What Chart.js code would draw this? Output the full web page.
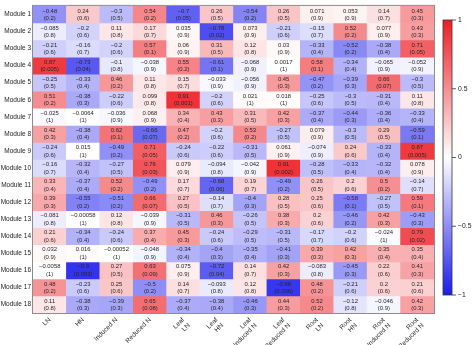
<!DOCTYPE html>
<html>
<head>
<meta charset="utf-8">
<script src="https://cdn.jsdelivr.net/npm/chart.js@4.4.1/dist/chart.umd.min.js"></script>
<style>
  html, body { margin: 0; padding: 0; background: #fff; }
  #wrap { width: 474px; height: 345px; }
</style>
</head>
<body>
<div id="wrap"><canvas id="heat" width="474" height="345"></canvas></div>
<script>
const columns = [
  "LN", "HN", "Induced N", "Reduced N",
  ["Leaf", "LN"], ["Leaf", "HN"], ["Leaf", "Induced N"], ["Leaf", "Reduced N"],
  ["Root", "LN"], ["Root", "HN"], ["Root", "Induced N"], ["Root", "Reduced N"]
];
const modules = [];
for (let i = 1; i <= 18; i++) modules.push("Module " + i);

// correlation per module (rows) x trait (columns)
const rVals = [
  [-0.48, 0.24, -0.3, 0.54, -0.7, 0.26, -0.54, 0.26, 0.071, 0.053, 0.14, 0.45],
  [-0.085, -0.2, 0.11, 0.17, 0.035, -0.78, 0.073, -0.21, -0.15, 0.52, 0.077, 0.43],
  [-0.21, -0.16, -0.2, 0.57, 0.06, 0.31, 0.12, 0.03, -0.33, -0.52, -0.38, 0.71],
  [0.87, -0.73, -0.1, -0.038, 0.55, -0.61, -0.068, 0.0017, 0.58, -0.34, -0.065, -0.052],
  [-0.25, -0.33, 0.46, 0.11, 0.15, -0.033, -0.056, 0.45, -0.47, -0.39, 0.66, -0.3],
  [0.51, -0.38, -0.22, 0.099, 0.91, -0.2, 0.021, 0.018, -0.25, -0.3, -0.31, 0.11],
  [-0.025, -0.0064, -0.036, 0.068, 0.34, 0.43, 0.31, 0.42, -0.37, -0.44, -0.36, -0.33],
  [0.42, -0.38, 0.62, -0.66, 0.47, -0.2, 0.53, -0.27, 0.079, -0.3, 0.29, -0.59],
  [-0.24, 0.015, -0.49, 0.71, -0.24, -0.22, -0.31, 0.061, -0.074, 0.24, -0.33, 0.87],
  [-0.16, -0.32, -0.27, 0.76, 0.079, -0.094, -0.042, 0.91, -0.28, -0.33, -0.32, 0.078],
  [0.33, -0.37, 0.52, -0.49, 0.17, -0.68, 0.19, -0.49, 0.26, 0.2, 0.5, -0.14],
  [0.39, -0.55, -0.51, 0.66, 0.27, -0.14, -0.4, 0.28, 0.25, -0.58, -0.27, 0.59],
  [-0.081, -0.00058, 0.12, -0.039, -0.31, 0.46, -0.26, 0.38, 0.2, -0.46, 0.42, -0.43],
  [0.21, -0.34, -0.24, 0.37, 0.45, -0.24, -0.29, -0.31, -0.17, -0.2, -0.024, 0.79],
  [0.032, 0.016, -0.00052, -0.048, -0.34, -0.4, -0.35, -0.41, 0.39, 0.42, 0.35, 0.35],
  [-0.0058, -0.9, 0.27, 0.63, 0.075, -0.72, 0.14, 0.42, -0.083, -0.45, 0.22, 0.41],
  [0.48, -0.23, 0.25, -0.5, 0.14, -0.093, 0.12, -0.88, 0.48, -0.21, 0.2, 0.21],
  [0.11, -0.38, -0.39, 0.65, -0.37, -0.38, -0.46, 0.44, 0.52, -0.12, -0.046, 0.42]
];

// p-values, same layout
const pVals = [
  [0.2, 0.6, 0.5, 0.2, 0.05, 0.5, 0.2, 0.5, 0.9, 0.9, 0.7, 0.3],
  [0.8, 0.6, 0.8, 0.7, 0.9, 0.02, 0.9, 0.6, 0.7, 0.2, 0.9, 0.3],
  [0.6, 0.7, 0.6, 0.1, 0.9, 0.5, 0.8, 0.9, 0.4, 0.2, 0.4, 0.05],
  [0.005, 0.04, 0.8, 0.9, 0.2, 0.1, 0.9, 1, 0.1, 0.4, 0.9, 0.9],
  [0.5, 0.4, 0.2, 0.8, 0.7, 0.9, 0.9, 0.3, 0.2, 0.3, 0.07, 0.5],
  [0.2, 0.3, 0.6, 0.8, 0.001, 0.6, 1, 1, 0.6, 0.5, 0.4, 0.8],
  [1, 1, 0.9, 0.9, 0.4, 0.3, 0.5, 0.3, 0.4, 0.3, 0.4, 0.4],
  [0.3, 0.4, 0.1, 0.07, 0.2, 0.6, 0.2, 0.5, 0.9, 0.5, 0.5, 0.1],
  [0.6, 1, 0.2, 0.05, 0.6, 0.6, 0.5, 0.9, 0.9, 0.6, 0.4, 0.005],
  [0.7, 0.4, 0.5, 0.03, 0.9, 0.8, 0.9, 0.002, 0.5, 0.4, 0.4, 0.9],
  [0.4, 0.4, 0.2, 0.2, 0.7, 0.06, 0.7, 0.2, 0.5, 0.6, 0.2, 0.7],
  [0.3, 0.2, 0.2, 0.07, 0.5, 0.7, 0.3, 0.5, 0.6, 0.1, 0.5, 0.1],
  [0.8, 1, 0.8, 0.9, 0.5, 0.3, 0.5, 0.3, 0.6, 0.2, 0.3, 0.3],
  [0.6, 0.4, 0.6, 0.4, 0.3, 0.6, 0.5, 0.5, 0.7, 0.6, 1, 0.02],
  [0.9, 1, 1, 0.9, 0.4, 0.3, 0.4, 0.3, 0.3, 0.3, 0.4, 0.4],
  [1, 0.003, 0.5, 0.09, 0.9, 0.04, 0.7, 0.3, 0.8, 0.3, 0.6, 0.3],
  [0.2, 0.6, 0.6, 0.2, 0.7, 0.8, 0.8, 0.006, 0.2, 0.6, 0.6, 0.6],
  [0.8, 0.3, 0.3, 0.08, 0.4, 0.4, 0.3, 0.3, 0.2, 0.8, 0.9, 0.3]
];

const colorTicks = [1, 0.5, 0, -0.5, -1];

const FONT = "'Liberation Sans', Arial, sans-serif";
const RED = [236, 30, 36];
const BLUE = [28, 28, 236];

function heatColor(v){
  const t = Math.min(1, Math.abs(v));
  const end = v >= 0 ? RED : BLUE;
  const c = end.map(e => Math.round(255 + (e - 255) * t));
  return "rgb(" + c.join(",") + ")";
}

function fmt(v){
  return String(v).replace("-", "\u2212");
}

const datasets = modules.map((m, i) => ({
  label: m,
  data: columns.map(() => [i + 0.5, i + 1.5]),
  backgroundColor: rVals[i].map(heatColor),
  borderWidth: 0,
  barPercentage: 1,
  categoryPercentage: 1,
  grouped: false
}));

const cellText = {
  id: "cellText",
  afterDatasetsDraw(chart){
    const ctx = chart.ctx;
    ctx.save();
    ctx.fillStyle = "#262626";
    ctx.textAlign = "center";
    ctx.textBaseline = "middle";
    ctx.font = "5.9px " + FONT;
    chart.data.datasets.forEach((ds, i) => {
      const meta = chart.getDatasetMeta(i);
      meta.data.forEach((el, j) => {
        const cy = (el.y + el.base) / 2;
        ctx.fillText(fmt(rVals[i][j]), el.x, cy - 3.5);
        ctx.fillText("(" + pVals[i][j] + ")", el.x, cy + 4);
      });
    });
    // frame around the heatmap
    const a = chart.chartArea;
    ctx.strokeStyle = "#8c8c8c";
    ctx.lineWidth = 1;
    ctx.strokeRect(a.left - 0.5, a.top - 0.5, a.right - a.left + 1, a.bottom - a.top + 1);
    ctx.restore();
  }
};

const colorBar = {
  id: "colorBar",
  afterDraw(chart){
    const ctx = chart.ctx;
    const x0 = 443, x1 = 452, top = 20, bot = 295;
    ctx.save();
    const g = ctx.createLinearGradient(0, top, 0, bot);
    g.addColorStop(0, heatColor(1));
    g.addColorStop(0.5, heatColor(0));
    g.addColorStop(1, heatColor(-1));
    ctx.fillStyle = g;
    ctx.fillRect(x0, top, x1 - x0, bot - top);
    ctx.strokeStyle = "#333";
    ctx.lineWidth = 0.8;
    ctx.strokeRect(x0, top, x1 - x0, bot - top);
    ctx.fillStyle = "#222";
    ctx.font = "6.8px " + FONT;
    ctx.textAlign = "left";
    ctx.textBaseline = "middle";
    colorTicks.forEach(t => {
      const y = top + (1 - t) / 2 * (bot - top);
      ctx.beginPath();
      ctx.moveTo(x1, y);
      ctx.lineTo(x1 + 4, y);
      ctx.stroke();
      ctx.fillText(fmt(t), x1 + 6, y);
    });
    ctx.restore();
  }
};

new Chart(document.getElementById("heat"), {
  type: "bar",
  data: { labels: columns, datasets: datasets },
  plugins: [cellText, colorBar],
  options: {
    responsive: false,
    animation: false,
    layout: { padding: { left: 0, right: 40, top: 1, bottom: 0 } },
    plugins: { legend: { display: false }, tooltip: { enabled: false } },
    scales: {
      x: {
        type: "category",
        grid: { display: false, drawTicks: false },
        border: { display: false },
        ticks: {
          color: "#222",
          font: { family: FONT, size: 6.6 },
          minRotation: 45,
          maxRotation: 45,
          autoSkip: false,
          padding: 3
        },
        afterFit(scale){ scale.height = 32; }
      },
      y: {
        type: "linear",
        reverse: true,
        min: 0.5,
        max: 18.5,
        grid: { display: false, drawTicks: false },
        border: { display: false },
        afterBuildTicks(scale){
          scale.ticks = modules.map((m, i) => ({ value: i + 1 }));
        },
        ticks: {
          color: "#222",
          font: { family: FONT, size: 6.5 },
          padding: 2,
          callback: (v) => modules[v - 1]
        },
        afterFit(scale){ scale.width = 33; }
      }
    }
  }
});
</script>
</body>
</html>
